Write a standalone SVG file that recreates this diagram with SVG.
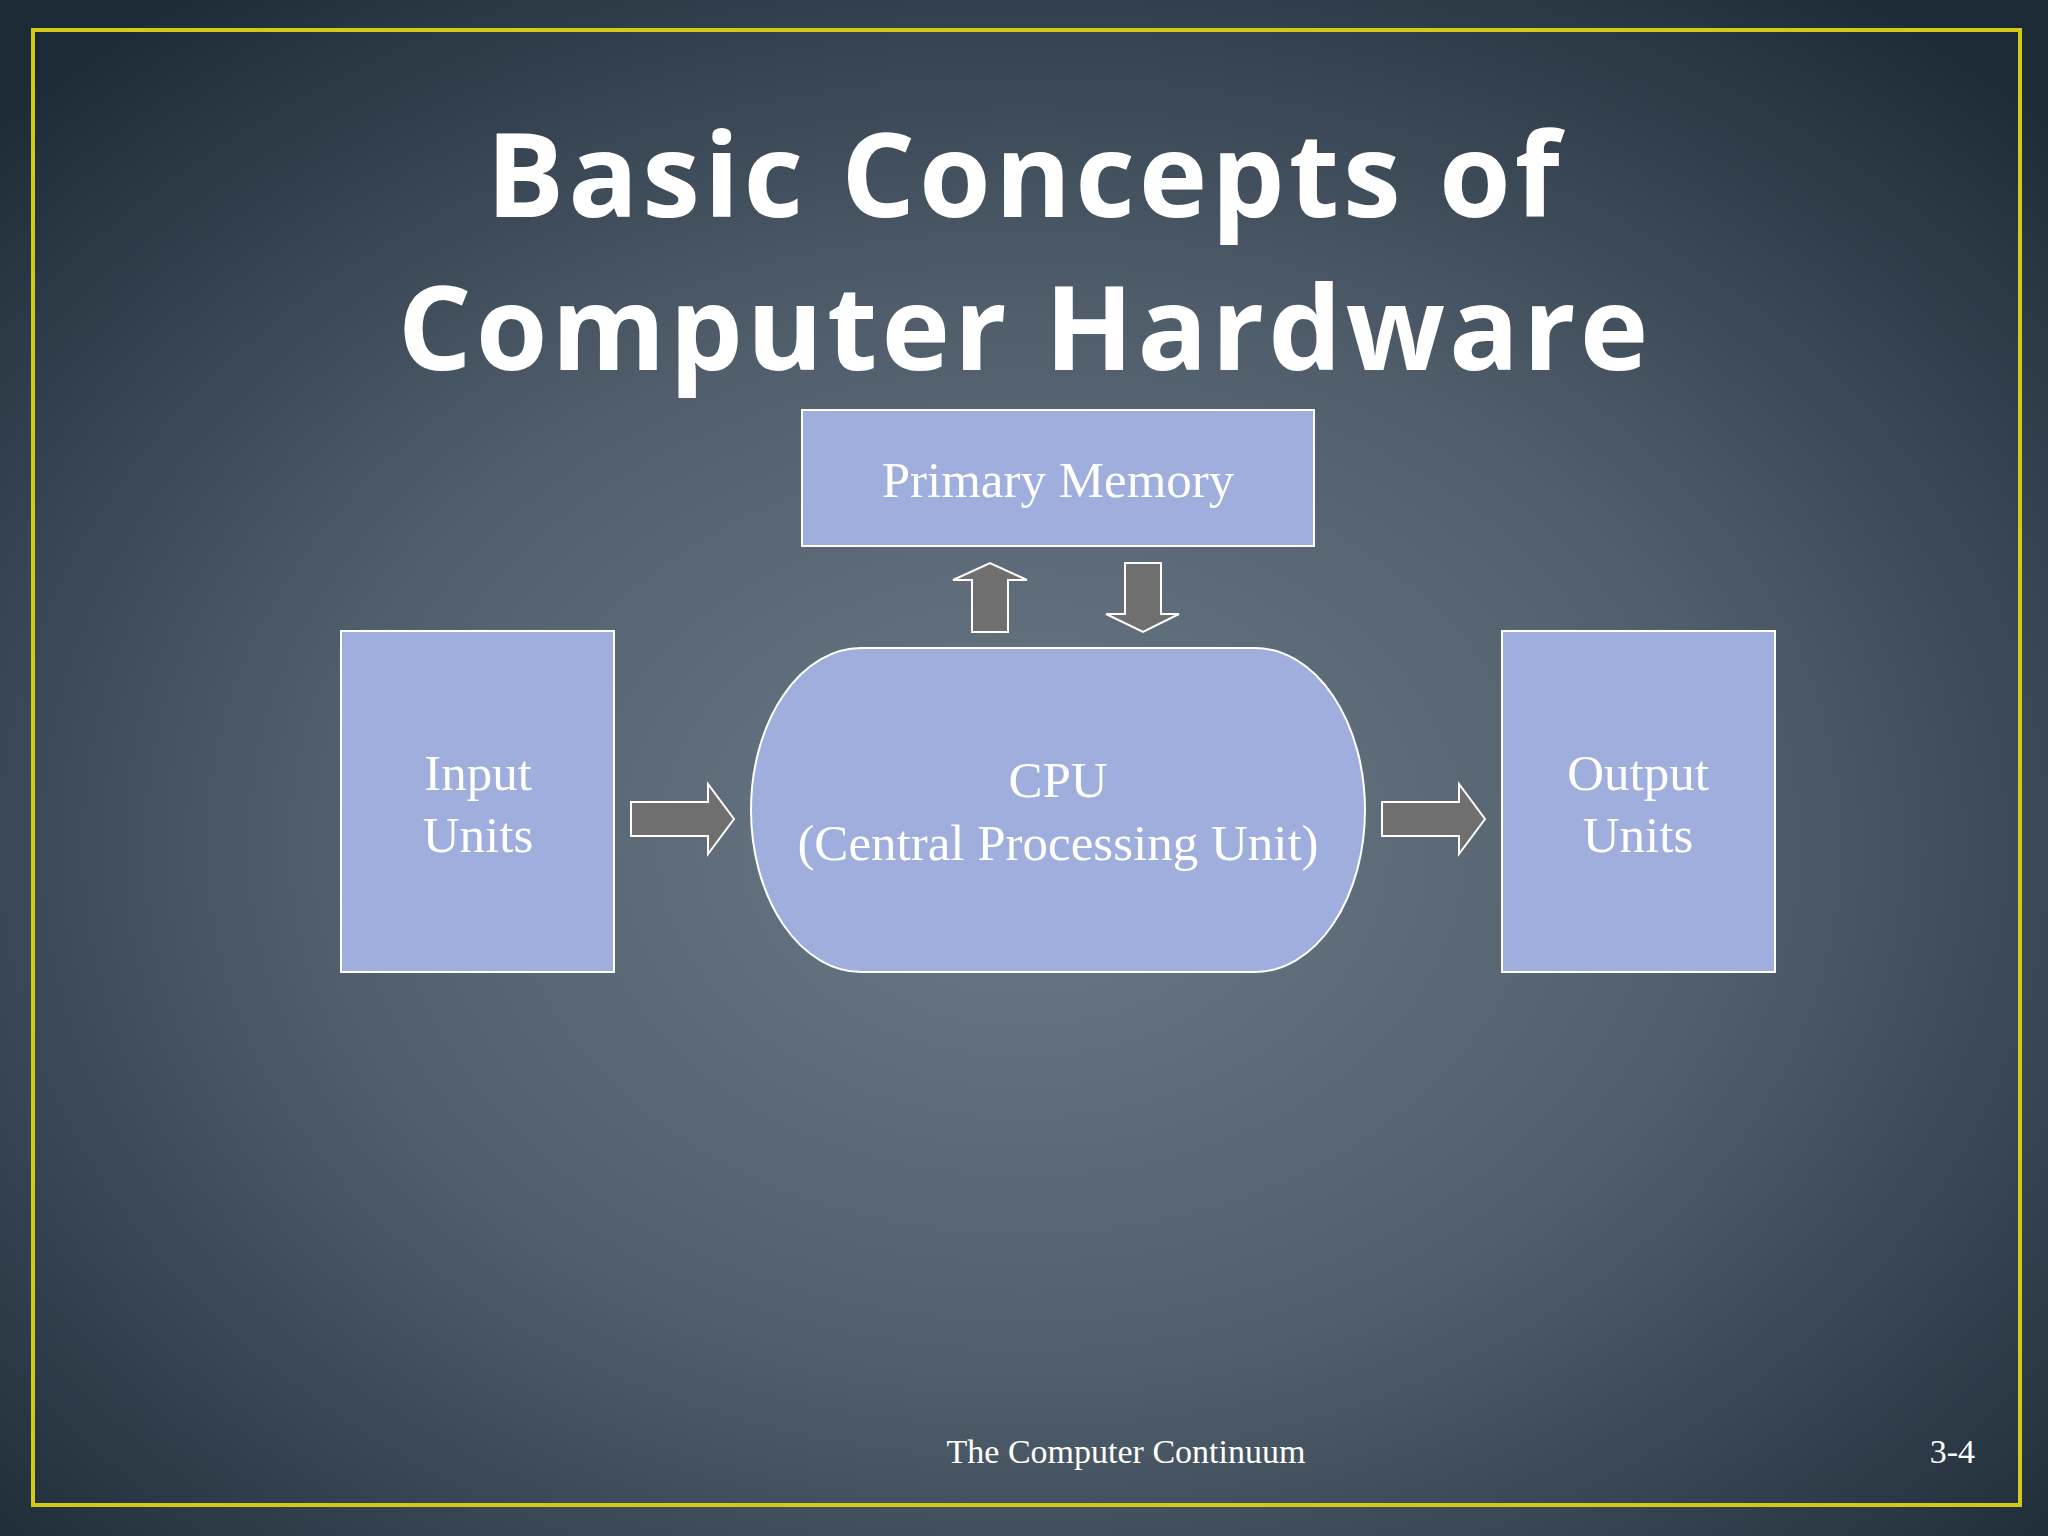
<svg xmlns="http://www.w3.org/2000/svg" width="2048" height="1536" viewBox="0 0 2048 1536">
<defs>
<radialGradient id="bg" cx="50%" cy="55%" r="70%">
<stop offset="0" stop-color="#6c7885"/>
<stop offset="0.5" stop-color="#505e6c"/>
<stop offset="1" stop-color="#1c2a36"/>
</radialGradient>
<style>
.box{fill:#a0aedd;stroke:#ffffff;stroke-width:2}
.lbl{font-family:"Liberation Serif",serif;font-size:51px;fill:#ffffff;text-anchor:middle}
.arr{fill:#6f6f6f;stroke:#ffffff;stroke-width:2}
.title{font-family:"Open Sans","DejaVu Sans",sans-serif;font-weight:bold;font-size:116px;fill:#ffffff;text-anchor:middle;letter-spacing:4px}
.foot{font-family:"Liberation Serif",serif;font-size:34px;fill:#ffffff}
</style>
</defs>
<rect width="2048" height="1536" fill="url(#bg)"/>
<rect x="33" y="30" width="1987" height="1475" fill="none" stroke="#d4c81a" stroke-width="4"/>
<text class="title" x="1025" y="217">Basic Concepts of</text>
<text class="title" x="1025" y="370">Computer Hardware</text>
<g id="memory"><rect class="box" x="802" y="410" width="512" height="136"/><text class="lbl" x="1058" y="497">Primary Memory</text></g>
<g id="input"><rect class="box" x="341" y="631" width="273" height="341"/><text class="lbl" x="478" y="790">Input</text><text class="lbl" x="478" y="852">Units</text></g>
<g id="cpu"><path class="box" d="M861,648 H1255 A110,162 0 0 1 1255,972 H861 A110,162 0 0 1 861,648 Z"/><text class="lbl" x="1058" y="797">CPU</text><text class="lbl" x="1058" y="860">(Central Processing Unit)</text></g>
<g id="output"><rect class="box" x="1502" y="631" width="273" height="341"/><text class="lbl" x="1638" y="790">Output</text><text class="lbl" x="1638" y="852">Units</text></g>
<g id="connectors">
<path class="arr" d="M631,802 H708 V784 L734,819 L708,854 V836 H631 Z"/>
<path class="arr" d="M1382,802 H1459 V784 L1485,819 L1459,854 V836 H1382 Z"/>
<path class="arr" d="M972,632 V580 H953 L990,563 L1027,580 H1008 V632 Z"/>
<path class="arr" d="M1125,563 V614 H1106 L1143,632 L1179,614 H1161 V563 Z"/>
</g>
<text class="foot" x="1126" y="1463" text-anchor="middle">The Computer Continuum</text>
<text class="foot" x="1975" y="1463" text-anchor="end">3-4</text>
</svg>
